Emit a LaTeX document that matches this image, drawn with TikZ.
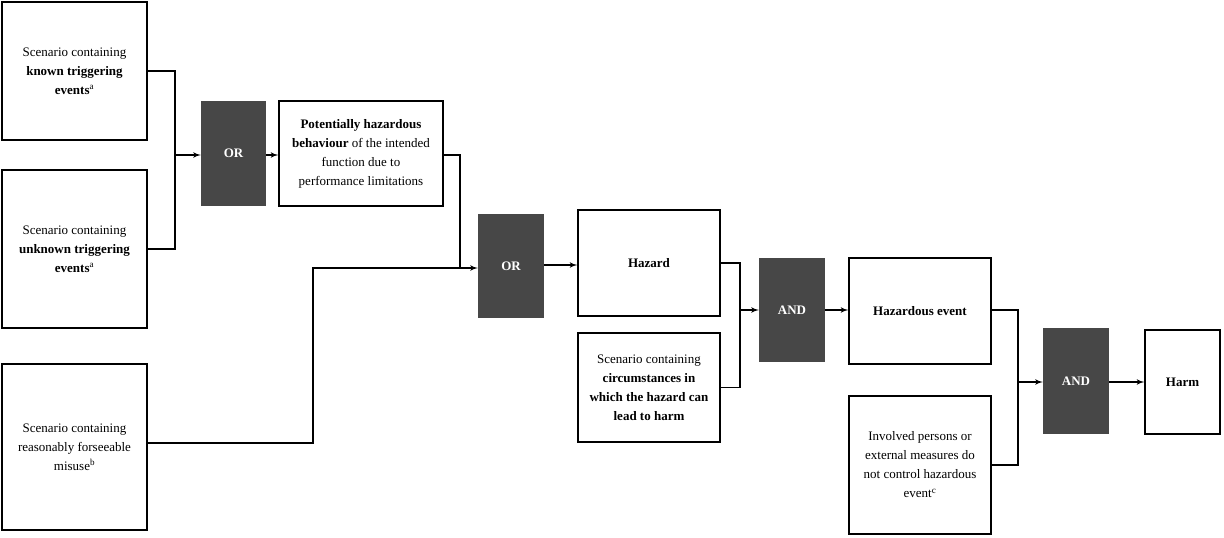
\documentclass[tikz,border=0pt]{standalone}
\usepackage{fontspec}
\setmainfont{Liberation Serif}
\usetikzlibrary{arrows,positioning,calc}

\begin{document}
\begin{tikzpicture}[
    x=1pt, y=-1pt,
    font=\fontsize{13}{19}\selectfont,
    block/.style={
        rectangle,
        draw,
        line width=1.4pt,
        fill=white,
        align=center,
        inner sep=2pt
    },
    gate/.style={
        rectangle,
        fill=black!72,
        text=white,
        font=\fontsize{13}{16}\selectfont\bfseries
    },
    line/.style={
        draw, -latex', line width=1.6pt
    },
    wire/.style={
        draw, line width=1.4pt
    }
]

    \useasboundingbox (0,0) rectangle (1224,538);

    % Nodes
    \node [block, minimum width=145, minimum height=138] (known) at (74.5,71) {Scenario containing\\ \textbf{known triggering}\\ \textbf{events}$^{\mathrm{a}}$};
    \node [block, minimum width=145, minimum height=158] (unknown) at (74.5,249) {Scenario containing\\ \textbf{unknown triggering}\\ \textbf{events}$^{\mathrm{a}}$};
    \node [block, minimum width=145, minimum height=166] (misuse) at (74.5,447) {Scenario containing\\ reasonably forseeable\\ misuse$^{\mathrm{b}}$};

    \node [gate, minimum width=65, minimum height=105] (or1) at (233.5,153.5) {OR};
    \node [block, minimum width=164, minimum height=105] (behav) at (361,153.5) {\textbf{Potentially hazardous}\\ \textbf{behaviour} of the intended\\ function due to\\ performance limitations};

    \node [gate, minimum width=66, minimum height=104] (or2) at (511,266) {OR};
    \node [block, minimum width=142, minimum height=106] (hazard) at (649,263) {\textbf{Hazard}};
    \node [block, minimum width=142, minimum height=109] (circ) at (649,387.5) {Scenario containing\\ \textbf{circumstances in}\\ \textbf{which the hazard can}\\ \textbf{lead to harm}};

    \node [gate, minimum width=66, minimum height=104] (and1) at (792,310) {AND};
    \node [block, minimum width=142, minimum height=106] (hevent) at (920,311) {\textbf{Hazardous event}};
    \node [block, minimum width=142, minimum height=138] (involved) at (920,465) {Involved persons or\\ external measures do\\ not control hazardous\\ event$^{\mathrm{c}}$};

    \node [gate, minimum width=66, minimum height=106] (and2) at (1076,381) {AND};
    \node [block, minimum width=75, minimum height=104] (harm) at (1182.5,382) {\textbf{Harm}};

    % Junctions
    \coordinate (j1) at (175,155);
    \coordinate (j2) at (460,268);
    \coordinate (j3) at (740,310);
    \coordinate (j4) at (1018,382);

    % Edges
    \path [wire] (known.east) -- (known.east -| j1) -- (j1);
    \path [wire] (unknown.east) -- (unknown.east -| j1) -- (j1);
    \path [line] (j1) -- (j1 -| or1.west);
    \path [line] (or1.east |- j1) -- (behav.west |- j1);

    \path [wire] (behav.east |- j1) -- (j1 -| j2) -- (j2);
    \path [wire] (misuse.east |- 0,443) -- (313,443) -- (313,268) -- (j2);
    \path [line] (j2) -- (j2 -| or2.west);
    \path [line] (or2.east |- 0,265) -- (hazard.west |- 0,265);

    \path [wire] (hazard.east) -- (hazard.east -| j3) -- (j3);
    \path [wire] (circ.east) -- (circ.east -| j3) -- (j3);
    \path [line] (j3) -- (and1.west |- j3);
    \path [line] (and1.east |- j3) -- (hevent.west |- j3);

    \path [wire] (hevent.east |- j3) -- (j3 -| j4) -- (j4);
    \path [wire] (involved.east) -- (involved.east -| j4) -- (j4);
    \path [line] (j4) -- (and2.west |- j4);
    \path [line] (and2.east |- j4) -- (harm.west |- j4);

\end{tikzpicture}
\end{document}
